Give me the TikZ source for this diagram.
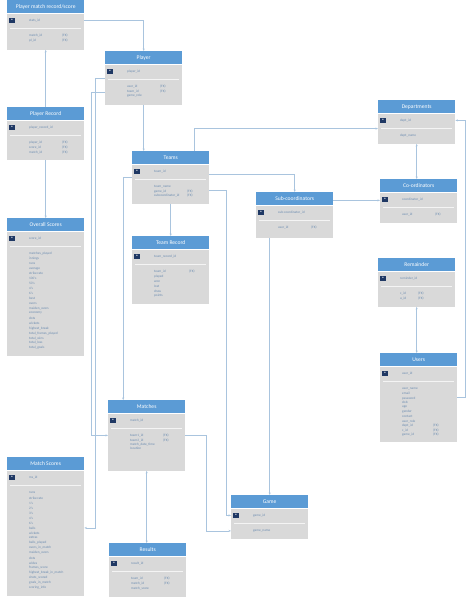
\documentclass[tikz,border=0pt]{standalone}
\usepackage{fontspec}
\setmainfont{Carlito}
\usepackage{tikz}
\usetikzlibrary{arrows.meta,positioning,calc}

\definecolor{hdrblue}{HTML}{5B9BD5}
\definecolor{bodygray}{HTML}{D9D9D9}
\definecolor{pknavy}{HTML}{1F3864}
\definecolor{txtblue}{HTML}{6A8BB0}
\definecolor{linkblue}{HTML}{A9C4DE}

% entity box: name, x, y, height, title, key, fields, FK column, row step
\newcommand{\erentity}[9]{%
  \node[erhead, anchor=north west] (#1) at (#2,#3) {#5};
  \node[erbody, anchor=north west, minimum height={#4-13}] (#1-b) at (#1.south west) {};
  \node[pkbadge] (#1-pk) at ([xshift=5pt,yshift=-7pt]#1.south west) {PK};
  \node[erkey] (#1-key) at ([xshift=22pt,yshift=-7pt]#1.south west) {#6};
  \draw[erdiv] ([xshift=3pt,yshift=-14.5pt]#1.south west) -- ([xshift=-3pt,yshift=-14.5pt]#1.south east);
  \foreach \f/\k [count=\i] in {#7} {
    \node[erkey] (#1-f\i) at ([xshift=22pt,yshift={-22.5pt-#9pt*(\i-1)}]#1.south west) {\f};
    \node[erkey] (#1-k\i) at ([xshift=#8pt,yshift={-22.5pt-#9pt*(\i-1)}]#1.south west) {\k};
  }%
}

\begin{document}
\begin{tikzpicture}[x=1pt,y=-1pt,
    erhead/.style={rectangle, fill=hdrblue, text=white, font=\fontsize{5.6}{6}\selectfont,
                   minimum width=77pt, minimum height=13pt, inner sep=0pt},
    erbody/.style={rectangle, fill=bodygray, minimum width=77pt, inner sep=0pt},
    pkbadge/.style={rectangle, fill=pknavy, text=white, font=\fontsize{1.8}{2}\selectfont\bfseries,
                    minimum size=5.5pt, inner sep=0pt},
    erkey/.style={anchor=west, text=txtblue, font=\fontsize{3.4}{4}\selectfont, inner sep=0pt},
    erdiv/.style={draw=white!70!bodygray, line width=0.5pt},
    link/.style={draw=linkblue, line width=0.5pt, -{Stealth[length=2.5pt,width=2pt]}},
    link2/.style={link, {Stealth[length=2.5pt,width=2pt]}-{Stealth[length=2.5pt,width=2pt]}}]
  \fill[white] (0,0) rectangle (474,597);
  \useasboundingbox (0,0) rectangle (474,597);

  % left column
  \erentity{pmr}{7}{0}{49}{Player match record/score}{stats\_id}{match\_id/(FK), pl\_id/(FK)}{55}{4.8}
  \erentity{precord}{7}{107}{52}{Player Record}{player\_record\_id}{player\_id/(FK), score\_id/(FK), match\_id/(FK)}{55}{4.8}
  \erentity{overall}{7}{218}{137}{Overall Scores}{score\_id}{matches\_played/{}, innings/{}, runs/{}, average/{},
    strike rate/{}, 100's/{}, 50's/{}, 4's/{}, 6's/{}, best/{}, overs/{}, maiden\_overs/{}, economy/{},
    dots/{}, wickets/{}, highest\_break/{}, total\_frames\_played/{}, total\_wins/{}, total\_loss/{},
    total\_goals/{}}{55}{4.95}
  \erentity{mscores}{7}{457}{138}{Match Scores}{ms\_id}{runs/{}, strike rate/{}, 1's/{}, 2's/{}, 3's/{},
    4's/{}, 6's/{}, balls/{}, wickets/{}, extras/{}, balls\_played/{}, overs\_in\_match/{}, maiden\_overs/{},
    dots/{}, wides/{}, frames\_score/{}, highest\_break\_in\_match/{}, shots\_scored/{}, goals\_in\_match/{},
    scoring\_info/{}}{55}{5}

  % middle column
  \erentity{player}{105}{51}{53}{Player}{player\_id}{user\_id/(FK), team\_id/(FK), game\_role/{}}{55}{4.5}
  \erentity{teams}{132}{151}{52}{Teams}{team\_id}{team\_name/{}, game\_id/(FK), subcoordinator\_id/(FK)}{55}{4.5}
  \erentity{trecord}{132}{236}{67}{Team Record}{team\_record\_id}{team\_id/(FK), played/{}, won/{}, lost/{},
    draw/{}, points/{}}{57}{4.8}
  \erentity{matches}{108}{400}{70}{Matches}{match\_id}{team1\_id/(FK), team2\_id/(FK), match\_date\_time/{},
    location/{}}{55}{4.2}
  \erentity{results}{109}{543}{53}{Results}{result\_id}{team\_id/(FK), match\_id/(FK), match\_score/{}}{55}{5}
  \erentity{subcoord}{256}{192}{45}{Sub-coordinators}{sub-coordinator\_id}{user\_id/(FK)}{55}{4.8}
  \erentity{game}{231}{495}{43}{Game}{game\_id}{game\_name/{}}{55}{4.8}

  % right column
  \erentity{dept}{378}{100}{43}{Departments}{dept\_id}{dept\_name/{}}{55}{4.8}
  \erentity{coord}{380}{179}{43}{Co-ordinators}{coordinator\_id}{user\_id/(FK)}{55}{4.8}
  \erentity{remind}{378}{258}{48}{Remainder}{reminder\_id}{c\_id/(FK), u\_id/(FK)}{40}{4.8}
  \erentity{users}{380}{353}{88}{Users}{user\_id}{user\_name/{}, email/{}, password/{}, dob/{}, age/{},
    gender/{}, contact/{}, user\_role/{}, dept\_id/(FK), c\_id/(FK), game\_id/(FK)}{53}{4.6}

  % connectors
  \draw[link] (precord.north) -- (pmr-b.south);
  \draw[link] (precord-b.south) -- (overall.north);
  \draw[link] (player-b.south) -- (player-b.south |- teams.north);
  \draw[link] (teams-b.south) -- (trecord.north);
  \draw[link] ([xshift=24pt]teams.north) |- (dept-b.west);
  \draw[link2] (dept-b.south) -- (dept-b.south |- coord.north);
  \draw[link] ([yshift=-8pt]coord.south west -| subcoord.east) -- ([yshift=-8pt]coord.south west);
  \draw[link] ([yshift=-10pt]teams.south east) -| (subcoord.north);
  \draw[link] (game.north |- subcoord-b.south) -- (game.north);
  \draw[link] ([yshift=-26pt]teams.south east) -- ++(17,0) |- (game-pk -| game.west);
  \draw[link] ([yshift=-22pt]matches.south east) -- ++(21,0) |- (game-f1 -| game.west);
  \draw[link2] (matches-b.south) -- (matches-b.south |- results.north);
  \draw[link] ([yshift=-13pt]teams.south west) -| ([xshift=-23.5pt]matches.north);
  \draw[link2] (remind-b.south) -- (remind-b.south |- users.north);
  \draw[link] ([yshift=-31pt]users.south east) -- ++(8,0) |- (dept-pk -| dept.east);
  \draw[link] ([yshift=-28pt]player.south west) -- ++(-14,0) |- ([yshift=-22pt]matches.south west);
  \draw[link] ([yshift=-14pt]player.south west) -- ++(-10,0) |- (mscores-f8 -| mscores.east);
  \draw[link] (pmr-key -| pmr.east) -| (player.north);
\end{tikzpicture}
\end{document}
